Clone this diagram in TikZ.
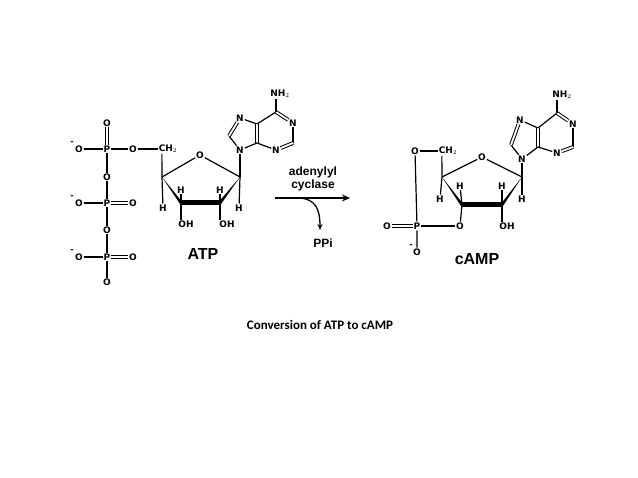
\documentclass[tikz,border=0pt]{standalone}
\usepackage{fontspec}
\usetikzlibrary{calc,arrows.meta}
\setsansfont{DejaVu Sans}
\newfontfamily\arialf{Liberation Sans}
\newfontfamily\calf{Carlito}
\begin{document}
\begin{tikzpicture}[x=1pt,y=-1pt,
  atom/.style={font=\sffamily\bfseries\fontsize{9}{9}\selectfont,inner sep=0.8pt},
  bond/.style={line width=1.2pt},
  dbl/.style={double,double distance=1.8pt,line width=1pt},
  lbl/.style={font=\arialf\bfseries\fontsize{16}{16}\selectfont},
  rxn/.style={font=\arialf\bfseries\fontsize{12}{12.5}\selectfont,align=center},
  chg/.style={font=\sffamily\bfseries\fontsize{8}{8}\selectfont,inner sep=0pt}]
\useasboundingbox (0,0) rectangle (638,478);
% ===== ATP =====
\node[atom] (ot) at (107,123) {O};
\node[atom] (p1) at (107,149) {P};
\node[atom] (om1) at (79,149) {O};
\node[chg] at (72,143) {-};
\node[atom] (ob) at (133,149) {O};
\node[atom] (ch2a) at (168,149) {CH$_2$};
\node[atom] (o12) at (107,177) {O};
\node[atom] (p2) at (107,203) {P};
\node[atom] (om2) at (79,203) {O};
\node[chg] at (72,197) {-};
\node[atom] (od2) at (133,203) {O};
\node[atom] (o23) at (107,230) {O};
\node[atom] (p3) at (107,257) {P};
\node[atom] (om3) at (79,257) {O};
\node[chg] at (72,251) {-};
\node[atom] (od3) at (133,257) {O};
\node[atom] (obot) at (107,282) {O};
\draw[dbl] (ot) -- (p1);
\draw[bond] (om1) -- (p1) -- (ob) -- (ch2a);
\draw[bond] (p1) -- (o12) -- (p2) -- (o23) -- (p3) -- (obot);
\draw[bond] (om2) -- (p2); \draw[dbl] (p2) -- (od2);
\draw[bond] (om3) -- (p3); \draw[dbl] (p3) -- (od3);
% sugar
\coordinate (a4) at (162,177);
\node[atom] (ao) at (200,155) {O};
\coordinate (a1) at (240,177);
\coordinate (a3) at (181,203);
\coordinate (a2) at (220,203);
\draw[bond] (ch2a.south west) ++(4,0) -- (a4);
\draw[bond] (a4) -- (ao) -- (a1);
\fill (a4) -- ($(a3)+(0,-2.5)$) -- ($(a3)+(0,2.5)$) -- cycle;
\fill (a1) -- ($(a2)+(0,-2.5)$) -- ($(a2)+(0,2.5)$) -- cycle;
\draw[line width=5pt] (a3) -- (a2);
\node[atom] (ah4) at (163,208) {H};
\node[atom] (ah3) at (181,190) {H};
\node[atom] (ah2) at (220,190) {H};
\node[atom] (ah1) at (239,208) {H};
\node[atom] (aoh3) at (186,224) {OH};
\node[atom] (aoh2) at (227,224) {OH};
\draw[bond] (a4) -- (ah4); \draw[bond] (a1) -- (ah1);
\draw[bond] (a3) -- (ah3); \draw[bond] (a2) -- (ah2);
\draw[bond] (a3) -- (aoh3.north west -| a3); \draw[bond] (a2) -- (aoh2.north west -| a2);
% adenine
\node[atom] (an9) at (240,150) {N};
\coordinate (ac8) at (229,136);
\node[atom] (an7) at (240,118) {N};
\coordinate (ac5) at (257,124);
\coordinate (ac4) at (257,143);
\coordinate (ac6) at (276,112);
\node[atom] (an1) at (293,123) {N};
\coordinate (ac2) at (293,143);
\node[atom] (an3) at (276,150) {N};
\node[atom] (anh) at (280,94) {NH$_2$};
\draw[bond] (a1) -- (an9);
\draw[bond] (an9) -- (ac8); \draw[dbl] (ac8) -- (an7);
\draw[bond] (an7) -- (ac5); \draw[dbl] (ac5) -- (ac4); \draw[bond] (ac4) -- (an9);
\draw[bond] (ac5) -- (ac6); \draw[dbl] (ac6) -- (an1); \draw[bond] (an1) -- (ac2);
\draw[dbl] (ac2) -- (an3); \draw[bond] (an3) -- (ac4);
\draw[bond] (ac6) -- (anh.south -| ac6);
\node[lbl] (atp) at (203,254) {ATP};
% ===== reaction =====
\coordinate (rs) at (275,198);
\coordinate (re) at (350,198);
\coordinate (rb) at (301,198);
\draw[line width=1.5pt,-{Stealth[length=8pt,width=7pt]}] (rs) -- (re);
\node[rxn] (enz) at (313,179) {adenylyl\\cyclase};
\node[rxn] (ppi) at (323,243) {PPi};
\draw[line width=1.3pt,-{Stealth[length=6pt,width=5pt]}] (rb) .. controls (315,200) and (320,208) .. (320,230);
% ===== cAMP =====
\node[atom] (co5) at (415,151) {O};
\node[atom] (cch2) at (448,151) {CH$_2$};
\node[atom] (cp) at (417,226) {P};
\node[atom] (cod) at (387,226) {O};
\node[atom] (co3) at (460,226) {O};
\node[atom] (com) at (417,252) {O};
\node[chg] at (411,246) {-};
\draw[bond] (co5) -- (cch2);
\draw[bond] (co5) -- (cp) -- (com);
\draw[dbl] (cod) -- (cp);
\draw[bond] (cp) -- (co3);
\coordinate (c4) at (442,177);
\node[atom] (cor) at (482,157) {O};
\coordinate (c1) at (522,177);
\coordinate (c3) at (462,205);
\coordinate (c2) at (502,205);
\draw[bond] (cch2.south west) ++(4,0) -- (c4);
\draw[bond] (c4) -- (cor) -- (c1);
\fill (c4) -- ($(c3)+(0,-2.5)$) -- ($(c3)+(0,2.5)$) -- cycle;
\fill (c1) -- ($(c2)+(0,-2.5)$) -- ($(c2)+(0,2.5)$) -- cycle;
\draw[line width=5pt] (c3) -- (c2);
\node[atom] (ch4) at (440,199) {H};
\node[atom] (ch3) at (460,186) {H};
\node[atom] (ch2h) at (502,186) {H};
\node[atom] (ch1) at (522,199) {H};
\node[atom] (coh) at (507,226) {OH};
\draw[bond] (c4) -- (ch4); \draw[bond] (c1) -- (ch1);
\draw[bond] (c3) -- (ch3); \draw[bond] (c2) -- (ch2h);
\draw[bond] (c3) -- (co3); \draw[bond] (c2) -- (coh.north west -| c2);
\node[atom] (cn9) at (522,159) {N};
\coordinate (cc8) at (511,145);
\node[atom] (cn7) at (520,120) {N};
\coordinate (cc5) at (538,128);
\coordinate (cc4) at (538,147);
\coordinate (cc6) at (557,113);
\node[atom] (cn1) at (573,124) {N};
\coordinate (cc2) at (573,147);
\node[atom] (cn3) at (557,153) {N};
\node[atom] (cnh) at (562,95) {NH$_2$};
\draw[bond] (c1) -- (cn9);
\draw[bond] (cn9) -- (cc8); \draw[dbl] (cc8) -- (cn7);
\draw[bond] (cn7) -- (cc5); \draw[dbl] (cc5) -- (cc4); \draw[bond] (cc4) -- (cn9);
\draw[bond] (cc5) -- (cc6); \draw[dbl] (cc6) -- (cn1); \draw[bond] (cn1) -- (cc2);
\draw[dbl] (cc2) -- (cn3); \draw[bond] (cn3) -- (cc4);
\draw[bond] (cc6) -- (cnh.south -| cc6);
\node[lbl] (camp) at (477,259) {cAMP};
% caption
\node[font=\calf\bfseries\fontsize{13}{14}\selectfont] (cap) at (320,325) {Conversion of ATP to cAMP};
\end{tikzpicture}
\end{document}
